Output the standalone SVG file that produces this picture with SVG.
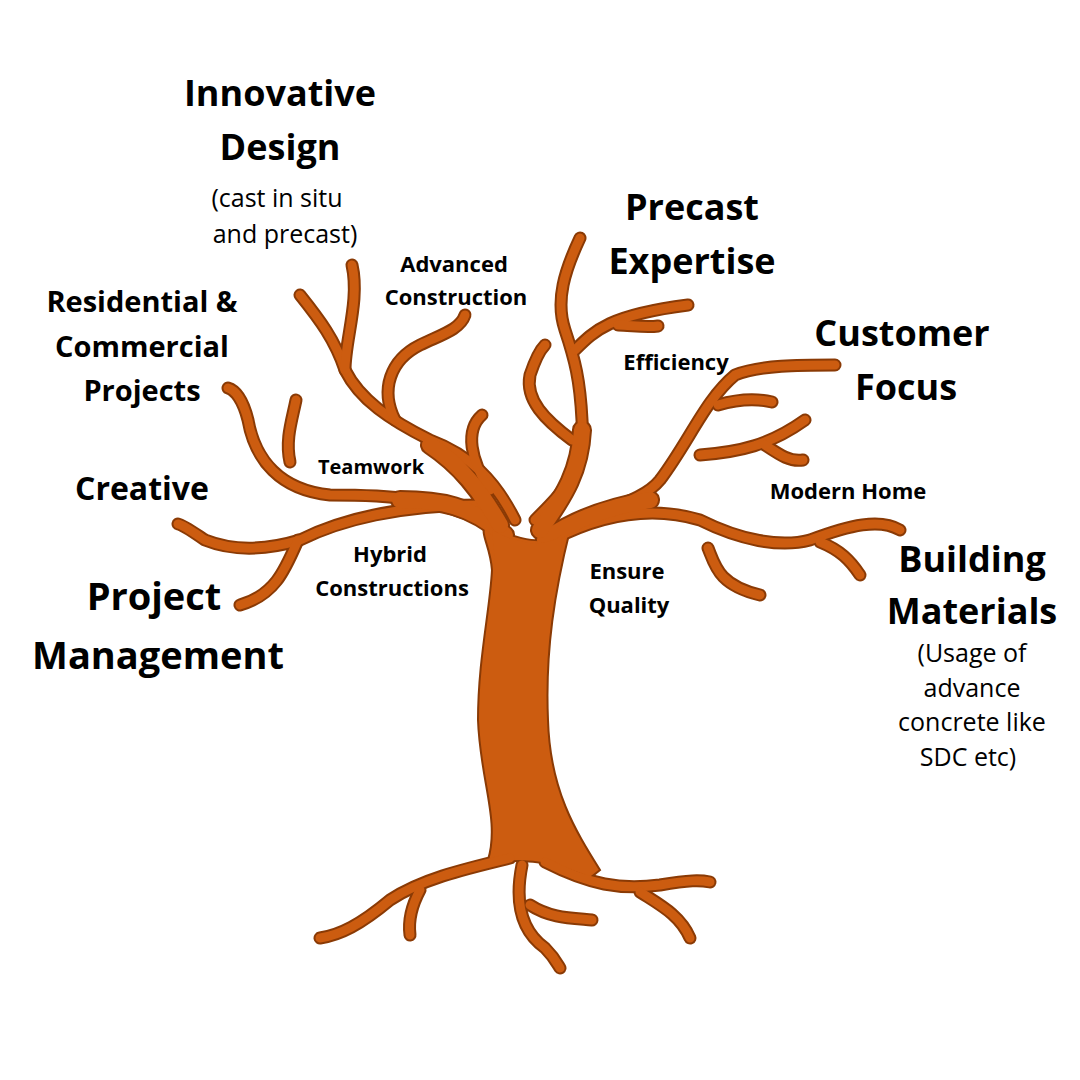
<svg xmlns="http://www.w3.org/2000/svg" width="1080" height="1080" viewBox="0 0 1080 1080">
<style>
.o{fill:none;stroke:#8a3a05;stroke-linecap:round;stroke-linejoin:round}
.f{fill:none;stroke:#cc5c10;stroke-linecap:round;stroke-linejoin:round}
text{font-family:"Open Sans","Noto Sans",sans-serif;fill:#000;text-anchor:middle}
.b{font-weight:700}
</style>
<rect width="1080" height="1080" fill="#fff"/>
<defs>
<g id="br">
<path d="M500,530 C440,495 380,495 330,495 C280,490 255,460 248,420 C243,400 235,390 228,388"/>
<path d="M480,505 C400,505 340,520 300,540 C260,552 230,550 205,540 C190,530 183,525 178,524"/>
<path d="M298,540 C285,570 275,595 240,605"/>
<path d="M290,462 C285,440 292,420 296,400"/>
<path d="M515,520 C495,480 470,455 430,440 C390,420 360,400 345,370 C335,340 320,320 300,295"/>
<path d="M345,370 C345,340 360,300 352,265"/>
<path d="M395,420 C380,390 390,360 420,345 C440,335 460,330 465,315"/>
<path d="M490,490 C470,460 465,430 482,415"/>
<path d="M535,520 C565,490 585,470 582,420 C580,380 575,360 565,330 C555,300 565,270 580,238"/>
<path d="M575,350 C595,330 610,315 688,305"/>
<path d="M618,325 C630,325 645,328 658,326"/>
<path d="M572,440 C545,420 525,400 530,375 C535,360 540,350 545,345"/>
<path d="M545,540 C590,510 640,505 660,480 C690,440 705,400 735,375 C760,365 800,365 835,365"/>
<path d="M718,405 C735,400 755,398 772,402"/>
<path d="M700,455 C740,452 770,445 805,420"/>
<path d="M765,445 C780,455 790,462 803,460"/>
<path d="M552,540 C610,510 660,508 700,520 C740,540 780,548 810,540 C850,525 880,518 900,530"/>
<path d="M820,542 C840,550 850,560 860,575"/>
<path d="M708,548 C715,565 718,585 760,595"/>
<path d="M510,858 C460,870 420,880 390,900 C360,925 340,935 320,938"/>
<path d="M420,890 C412,905 408,920 410,935"/>
<path d="M522,865 C515,900 520,930 545,948 C555,958 558,965 560,968"/>
<path d="M530,905 C550,918 570,918 592,920"/>
<path d="M545,862 C590,885 620,890 660,885 C690,880 700,880 710,882"/>
<path d="M640,892 C660,905 680,915 690,938"/>
</g>
<g id="thick">
<path d="M505,535 C470,505 440,500 400,500"/>
<path d="M500,525 C480,490 460,465 430,445"/>
<path d="M545,540 C580,515 620,505 650,500"/>
<path d="M540,530 C565,495 580,470 582,430"/>
</g>
</defs>
<g id="tree">
<use href="#br" class="o" stroke-width="13"/>
<use href="#thick" class="o" stroke-width="20"/>
<path d="M485,525 C520,540 545,548 570,530 C555,590 545,650 548,720 C550,790 575,830 600,870 L590,878 C560,865 535,858 500,862 L488,860 C500,820 480,780 478,720 C478,660 490,610 492,570 C490,545 480,535 485,525 Z" fill="#cc5c10" stroke="#8a3a05" stroke-width="2"/>
<use href="#br" class="f" stroke-width="9"/>
<use href="#thick" class="f" stroke-width="16"/>
<path d="M492,530 C520,545 545,548 562,535 L560,560 L495,560 Z" fill="#cc5c10"/>
</g>
<g id="labels">
<text class="b" x="280" y="106" font-size="36">Innovative</text>
<text class="b" x="280" y="160" font-size="36">Design</text>
<text x="277" y="207" font-size="25">(cast in situ</text>
<text x="285" y="243" font-size="25">and precast)</text>
<text class="b" x="454" y="272" font-size="22">Advanced</text>
<text class="b" x="456" y="305" font-size="22">Construction</text>
<text class="b" x="692" y="220" font-size="36">Precast</text>
<text class="b" x="692" y="274" font-size="36">Expertise</text>
<text class="b" x="676" y="370" font-size="22">Efficiency</text>
<text class="b" x="902" y="346" font-size="36">Customer</text>
<text class="b" x="906" y="400" font-size="36">Focus</text>
<text class="b" x="848" y="499" font-size="22">Modern Home</text>
<text class="b" x="972" y="572" font-size="36">Building</text>
<text class="b" x="972" y="624" font-size="36">Materials</text>
<text x="972" y="662" font-size="25">(Usage of</text>
<text x="972" y="697" font-size="25">advance</text>
<text x="972" y="731" font-size="25">concrete like</text>
<text x="968" y="766" font-size="25">SDC etc)</text>
<text class="b" x="627" y="579" font-size="22">Ensure</text>
<text class="b" x="629" y="613" font-size="22">Quality</text>
<text class="b" x="390" y="562" font-size="22">Hybrid</text>
<text class="b" x="392" y="596" font-size="22">Constructions</text>
<text class="b" x="371" y="474" font-size="20">Teamwork</text>
<text class="b" x="142" y="312" font-size="29">Residential &amp;</text>
<text class="b" x="142" y="357" font-size="29">Commercial</text>
<text class="b" x="142" y="401" font-size="29">Projects</text>
<text class="b" x="142" y="500" font-size="32">Creative</text>
<text class="b" x="154" y="610" font-size="38">Project</text>
<text class="b" x="158" y="669" font-size="38">Management</text>
</g>
</svg>
